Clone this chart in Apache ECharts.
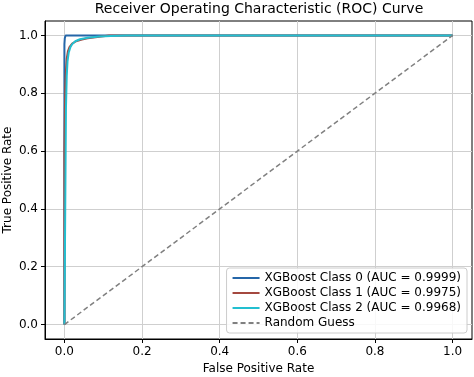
<!DOCTYPE html>
<html>
<head>
<meta charset="utf-8">
<script src="https://cdn.jsdelivr.net/npm/echarts@6/dist/echarts.min.js"></script>
<style>html,body{margin:0;padding:0;background:#fff;}#c{width:474px;height:377px;}</style>
</head>
<body>
<div id="c"></div>
<script>
var tickValues = [0, 0.2, 0.4, 0.6, 0.8, 1.0];
var seriesNames = ['XGBoost Class 0 (AUC = 0.9999)', 'XGBoost Class 1 (AUC = 0.9975)', 'XGBoost Class 2 (AUC = 0.9968)', 'Random Guess'];

var fpr0 = [0, 0, 0.001, 0.003, 1];
var tpr0 = [0, 0.97, 0.99, 1.0, 1.0];

var fpr1 = [0, 0, 0.002, 0.004, 0.006, 0.009, 0.013, 0.02, 0.03, 0.045, 0.06, 0.08, 0.1, 0.115, 1];
var tpr1 = [0, 0.6, 0.82, 0.88, 0.92, 0.945, 0.96, 0.972, 0.98, 0.986, 0.99, 0.994, 0.997, 1.0, 1.0];

var fpr2 = [0, 0.003, 0.004, 0.006, 0.008, 0.011, 0.015, 0.02, 0.028, 0.04, 0.06, 0.09, 0.12, 0.16, 1];
var tpr2 = [0, 0.0, 0.75, 0.86, 0.91, 0.94, 0.958, 0.97, 0.98, 0.987, 0.992, 0.996, 0.998, 1.0, 1.0];

var fprRand = [0, 1];
var tprRand = [0, 1];

var colors = ['#2566a8', '#a4483f', '#22bfd0', '#808080'];

function pairs(xs, ys) { return xs.map(function (x, i) { return [x, ys[i]]; }); }

var FONT = 'DejaVu Sans';
var chart = echarts.init(document.getElementById('c'), null, { renderer: 'canvas' });

function lineSeries(i, xs, ys, extra) {
  var s = {
    name: seriesNames[i], type: 'line', data: pairs(xs, ys),
    showSymbol: false, symbol: 'none', clip: false, animation: false,
    lineStyle: { color: colors[i], width: 2 }, itemStyle: { color: colors[i] },
    z: 2 + i
  };
  if (extra) { s.lineStyle = Object.assign(s.lineStyle, extra); }
  return s;
}

var axisCommon = {
  type: 'value', min: -0.05, max: 1.05,
  axisLine: { show: true, onZero: false, lineStyle: { color: '#000', width: 1 } },
  axisTick: { show: true, length: 4, customValues: tickValues, lineStyle: { color: '#000', width: 1 } },
  axisLabel: { customValues: tickValues, color: '#000', fontFamily: FONT, fontSize: 12, formatter: function (v) { return v.toFixed(1); } },
  splitLine: { show: true, lineStyle: { color: '#cfcfcf', width: 1 } },
  nameLocation: 'middle',
  nameMoveOverlap: false,
  nameTextStyle: { color: '#000', fontFamily: FONT, fontSize: 12 }
};

chart.setOption({
  animation: false,
  backgroundColor: '#fff',
  title: {
    text: 'Receiver Operating Characteristic (ROC) Curve',
    left: 259, top: 2, padding: 0, textAlign: 'center',
    textStyle: { color: '#000', fontFamily: FONT, fontSize: 14, fontWeight: 'normal' }
  },
  grid: { left: 45, right: 2, top: 21, bottom: 38, outerBoundsMode: 'none', containLabel: false, show: true, borderColor: '#000', borderWidth: 1, backgroundColor: 'transparent' },
  xAxis: Object.assign({}, axisCommon, { name: 'False Positive Rate', nameGap: 24, axisLabel: Object.assign({}, axisCommon.axisLabel, { margin: 7 }) }),
  yAxis: Object.assign({}, axisCommon, { name: 'True Positive Rate', nameGap: 31, axisLabel: Object.assign({}, axisCommon.axisLabel, { margin: 7 }) }),
  legend: {
    orient: 'vertical', right: 7, bottom: 44,
    itemWidth: 27, itemHeight: 14, itemGap: 3,
    padding: [4, 6, 4, 5],
    backgroundColor: 'rgba(255,255,255,0.85)', borderColor: '#cccccc', borderWidth: 1, borderRadius: 3,
    itemStyle: { opacity: 0 },
    textStyle: { color: '#000', fontFamily: FONT, fontSize: 12 },
    data: seriesNames
  },
  series: [
    lineSeries(0, fpr0, tpr0),
    lineSeries(1, fpr1, tpr1),
    lineSeries(2, fpr2, tpr2),
    lineSeries(3, fprRand, tprRand, { type: [5, 3], width: 1.5 })
  ]
});
</script>
</body>
</html>
